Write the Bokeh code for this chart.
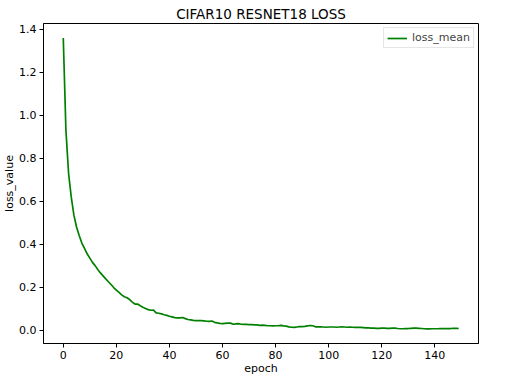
from bokeh.plotting import figure
from bokeh.models import Range1d, FixedTicker, Legend, LegendItem
from bokeh.embed import file_html
from bokeh.resources import INLINE

loss_mean = [
    1.36, 0.93, 0.73, 0.62, 0.535, 0.48, 0.44, 0.405, 0.38, 0.355,
    0.335, 0.315, 0.30, 0.282, 0.266, 0.252, 0.238, 0.225, 0.212, 0.198,
    0.186, 0.175, 0.164, 0.155, 0.150, 0.142, 0.130, 0.121, 0.121, 0.113,
    0.106, 0.100, 0.095, 0.092, 0.093, 0.080, 0.078, 0.075, 0.071, 0.068,
    0.064, 0.061, 0.058, 0.057, 0.057, 0.058, 0.053, 0.049, 0.047, 0.045,
    0.044, 0.044, 0.044, 0.043, 0.041, 0.040, 0.042, 0.036, 0.033, 0.031,
    0.030, 0.031, 0.032, 0.032, 0.027, 0.029, 0.030, 0.027, 0.026, 0.026,
    0.025, 0.025, 0.024, 0.024, 0.022, 0.023, 0.022, 0.020, 0.020, 0.019,
    0.020, 0.020, 0.022, 0.019, 0.018, 0.015, 0.013, 0.012, 0.014, 0.016,
    0.016, 0.017, 0.019, 0.021, 0.020, 0.015, 0.015, 0.015, 0.014, 0.013,
    0.014, 0.014, 0.014, 0.013, 0.014, 0.015, 0.014, 0.013, 0.014, 0.013,
    0.012, 0.012, 0.012, 0.011, 0.010, 0.010, 0.009, 0.009, 0.008, 0.008,
    0.009, 0.009, 0.008, 0.008, 0.009, 0.009, 0.007, 0.006, 0.006, 0.007,
    0.007, 0.008, 0.009, 0.009, 0.008, 0.007, 0.006, 0.005, 0.005, 0.006,
    0.006, 0.006, 0.007, 0.007, 0.007, 0.007, 0.007, 0.008, 0.008, 0.007,
]
epochs = list(range(len(loss_mean)))
x_ticks = [0, 20, 40, 60, 80, 100, 120, 140]
y_ticks = [0.0, 0.2, 0.4, 0.6, 0.8, 1.0, 1.2, 1.4]
y_tick_labels = ["0.0", "0.2", "0.4", "0.6", "0.8", "1.0", "1.2", "1.4"]

FONT = "DejaVu Sans"

xmin, xmax = min(epochs), max(epochs)
ymin, ymax = min(loss_mean), max(loss_mean)
xm = (xmax - xmin) * 0.05
ym = (ymax - ymin) * 0.05

p = figure(width=517, height=378, output_backend="svg", toolbar_location=None,
           x_range=Range1d(xmin - xm, xmax + xm), y_range=Range1d(ymin - ym, ymax + ym),
           min_border_left=42, min_border_right=39, min_border_top=23, min_border_bottom=35,
           title="CIFAR10 RESNET18 LOSS")
p.title.align = "center"
p.title.text_font = FONT
p.title.text_font_size = "13.5px"
p.title.text_font_style = "normal"
p.title.text_color = "black"
p.title.standoff = 4

p.background_fill_color = "white"
p.border_fill_color = "white"
p.outline_line_color = "black"
p.outline_line_width = 1
p.xgrid.visible = False
p.ygrid.visible = False

line = p.line(epochs, loss_mean, line_color="#008000", line_width=1.7)

for ax in (p.xaxis[0], p.yaxis[0]):
    ax.major_tick_in = 0
    ax.major_tick_out = 4
    ax.minor_tick_in = 0
    ax.minor_tick_out = 0
    ax.major_label_text_font = FONT
    ax.major_label_text_font_size = "11px"
    ax.major_label_text_color = "black"
    ax.axis_label_text_font = FONT
    ax.axis_label_text_font_size = "11px"
    ax.axis_label_text_font_style = "normal"
    ax.axis_label_text_color = "black"
    ax.axis_line_color = "black"
    ax.major_tick_line_color = "black"
    ax.major_label_standoff = 3
    ax.axis_label_standoff = 0

p.xaxis.ticker = FixedTicker(ticks=x_ticks)
p.yaxis.ticker = FixedTicker(ticks=y_ticks)
p.yaxis.major_label_overrides = {t: l for t, l in zip(y_ticks, y_tick_labels)}
p.xaxis.axis_label = "epoch"
p.yaxis.axis_label = "loss_value"

legend = Legend(items=[LegendItem(label="loss_mean", renderers=[line])],
                location="top_right")
legend.label_text_font = FONT
legend.label_text_font_size = "11px"
legend.border_line_color = "#cccccc"
legend.border_line_width = 1
legend.margin = 4
legend.padding = 3
legend.spacing = 0
legend.glyph_width = 20
legend.glyph_height = 10
legend.label_standoff = 5
legend.label_height = 10
p.add_layout(legend)

open("out.html", "w").write(file_html(p, INLINE))
